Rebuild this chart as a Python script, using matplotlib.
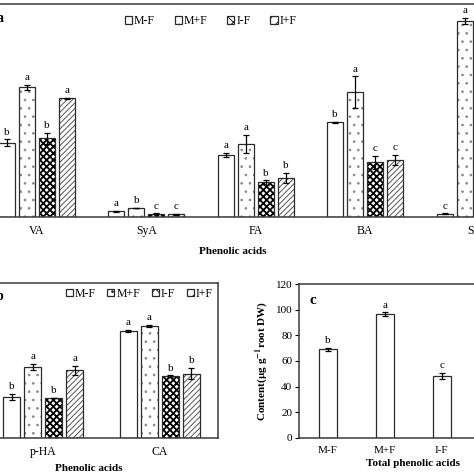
import numpy as np
import matplotlib
matplotlib.use("Agg")
import matplotlib.pyplot as plt
from matplotlib.patches import Patch

plt.rcParams['font.family'] = ['Liberation Serif', 'DejaVu Serif']
plt.rcParams['font.size'] = 8
plt.rcParams['mathtext.fontset'] = 'stix'
plt.rcParams['hatch.linewidth'] = 0.7

# ---- data ----
treatments = ["M-F", "M+F", "I-F", "I+F"]

acids_a = ["VA", "SyA", "FA", "BA", "SA"]
a_mean = {
    "M-F": [17.4, 1.3, 14.6, 22.2, 0.8],
    "M+F": [30.4, 2.1, 17.1, 29.3, 46.1],
    "I-F": [18.5, 0.8, 8.1, 12.8, np.nan],
    "I+F": [27.9, 0.6, 9.1, 13.3, np.nan],
}
a_err = {
    "M-F": [0.8, 0.15, 0.5, 0.1, 0.05],
    "M+F": [0.55, 0.1, 2.1, 3.7, 0.7],
    "I-F": [1.3, 0.05, 0.5, 1.6, np.nan],
    "I+F": [0.1, 0.05, 1.2, 1.2, np.nan],
}
a_sig = {
    "M-F": ["b", "a", "a", "b", "c"],
    "M+F": ["a", "b", "a", "a", "a"],
    "I-F": ["b", "c", "b", "c", ""],
    "I+F": ["a", "c", "b", "c", ""],
}

acids_b = ["p-HA", "CA"]
b_mean = {
    "M-F": [3.7, 9.7],
    "M+F": [6.4, 10.1],
    "I-F": [3.6, 5.6],
    "I+F": [6.1, 5.8],
}
b_err = {
    "M-F": [0.27, 0.1],
    "M+F": [0.3, 0.1],
    "I-F": [0.02, 0.05],
    "I+F": [0.4, 0.5],
}
b_sig = {
    "M-F": ["b", "a"],
    "M+F": ["a", "a"],
    "I-F": ["b", "b"],
    "I+F": ["a", "b"],
}

total_labels = ["M-F", "M+F", "I-F"]
total_mean = [69.0, 96.5, 48.5]
total_err = [1.0, 1.5, 2.2]
total_sig = ["b", "a", "c"]

# ---- style ----
hatches = {"M-F": "", "M+F": "..", "I-F": "xxxxx", "I+F": "//////"}
hatch_col = {"M-F": "white", "M+F": "#8a8a8a", "I-F": "#000000", "I+F": "#555555"}
hatch_lw = {"M-F": 0.7, "M+F": 0.7, "I-F": 1.3, "I+F": 0.7}
edge = "#2b2b2b"
W = H = 474.0

fig = plt.figure(figsize=(4.74, 4.74), dpi=100)


def px_axes(left, top, right, bottom):
    return fig.add_axes([left / W, 1 - bottom / H, (right - left) / W, (bottom - top) / H])


def style_frame(ax):
    for s in ax.spines.values():
        s.set_color("#3a3a3a")
        s.set_linewidth(1.1)


def hatched_bar(ax, xs, hs, width, t):
    # fill + hatch in its own colour, then the dark outline on top
    with plt.rc_context({"hatch.linewidth": hatch_lw[t]}):
        ax.bar(xs, hs, width, color="white", edgecolor=hatch_col[t], hatch=hatches[t],
               linewidth=0, zorder=2)
    ax.bar(xs, hs, width, fill=False, edgecolor=edge, linewidth=0.9, zorder=2.5)


def grouped(ax, cats, means, errs, sigs, step=0.183, width=0.146):
    x = np.arange(len(cats))
    for i, t in enumerate(treatments):
        xs = x + (i - 1.5) * step
        hatched_bar(ax, xs, means[t], width, t)
        ax.errorbar(xs, means[t], yerr=errs[t], fmt="none", ecolor="black",
                    elinewidth=0.9, capsize=2.5, capthick=0.9, zorder=3)
        for xx, m, e, s in zip(xs, means[t], errs[t], sigs[t]):
            if s and not np.isnan(m):
                ax.annotate(s, (xx, m + e), xytext=(0, 2), textcoords="offset points",
                            ha="center", va="bottom", fontsize=8)
    ax.set_xticks(x)
    ax.set_xticklabels(cats, fontsize=8.5)
    ax.tick_params(axis="x", length=0, pad=6)
    ax.set_yticks([])
    ax.set_xlim(-0.5, len(cats) - 0.5)


def legend_handles():
    hs = []
    for t in treatments:
        with plt.rc_context({"hatch.linewidth": hatch_lw[t]}):
            hs.append(Patch(facecolor="white", edgecolor=edge, hatch=hatches[t][:3],
                            label=t, linewidth=0.9))
    return hs


# panel a
ax_a = px_axes(-17.7, 4, 529.3, 217)
style_frame(ax_a)
grouped(ax_a, acids_a, a_mean, a_err, a_sig)
ax_a.set_ylim(0, 50)
ax_a.set_xlabel("Phenolic acids", fontweight="bold", fontsize=8)
ax_a.xaxis.set_label_coords((233 + 17.7) / 547.0, -0.14)
ax_a.legend(handles=legend_handles(), ncol=4, frameon=False, loc="center left",
            bbox_to_anchor=((120 + 17.7) / 547.0, 0.92), handlelength=0.6, handleheight=0.6,
            handletextpad=0.15, columnspacing=1.7, fontsize=8.5, borderaxespad=0)

# panel b
ax_b = px_axes(-15, 283, 218, 438)
style_frame(ax_b)
grouped(ax_b, acids_b, b_mean, b_err, b_sig, step=0.181, width=0.147)
ax_b.set_ylim(0, 14)
ax_b.set_xlabel("Phenolic acids", fontweight="bold", fontsize=8)
ax_b.xaxis.set_label_coords((89 + 15) / 233.0, -0.165)
ax_b.legend(handles=legend_handles(), ncol=4, frameon=False, loc="center left",
            bbox_to_anchor=((61 + 15) / 233.0, 0.93), handlelength=0.6, handleheight=0.6,
            handletextpad=0.15, columnspacing=1.0, fontsize=8.5, borderaxespad=0)

# panel c
ax_c = px_axes(299.3, 284.3, 527.3, 437.7)
style_frame(ax_c)
xc = np.arange(len(total_labels))
ax_c.bar(xc, total_mean, 0.325, color="white", edgecolor=edge, linewidth=0.9, zorder=2)
ax_c.errorbar(xc, total_mean, yerr=total_err, fmt="none", ecolor="black",
              elinewidth=0.9, capsize=2.5, capthick=0.9, zorder=3)
for xx, m, e, s in zip(xc, total_mean, total_err, total_sig):
    ax_c.annotate(s, (xx, m + e), xytext=(0, 2), textcoords="offset points",
                  ha="center", va="bottom", fontsize=8)
ax_c.set_xlim(-0.5, 3.5)
ax_c.set_ylim(0, 120)
ax_c.set_yticks(np.arange(0, 121, 20))
ax_c.set_xticks(xc)
ax_c.set_xticklabels(total_labels, fontsize=8)
ax_c.tick_params(axis="x", length=0, pad=6)
ax_c.tick_params(axis="y", length=3, width=0.8, labelsize=8, pad=2)
ax_c.set_ylabel(r"Content($\mathbf{\mu}$g g$^{\mathbf{-1}}$root DW)", fontweight="bold",
                fontsize=8, labelpad=4)
ax_c.set_xlabel("Total phenolic acids", fontweight="bold", fontsize=8, labelpad=3)

# panel letters
fig.text(-4 / W, 1 - 19 / H, "a", fontweight="bold", fontsize=10, va="center")
fig.text(-4 / W, 1 - 297 / H, "b", fontweight="bold", fontsize=10, va="center")
fig.text(313 / W, 1 - 301 / H, "c", fontweight="bold", fontsize=11, va="center", ha="center")

fig.savefig("out.png", dpi=100)
